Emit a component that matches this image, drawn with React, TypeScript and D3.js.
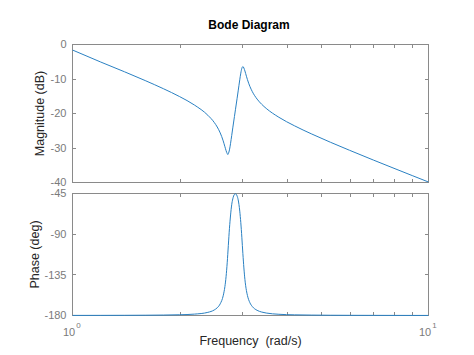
import React from 'react';
import * as d3 from 'd3';

// Frequency samples (rad/s)
const freq = [1, 1.2, 1.4, 1.6, 1.8, 2.0, 2.2, 2.4, 2.5, 2.55, 2.6, 2.65, 2.68, 2.7, 2.72, 2.73, 2.74, 2.76, 2.78, 2.8, 2.82, 2.85, 2.87, 2.9, 2.92, 2.95, 2.97, 2.99, 3.0, 3.01, 3.05, 3.08, 3.1, 3.15, 3.2, 3.3, 3.4, 3.5, 3.8, 4.2, 4.7, 5.3, 6, 7, 8, 9, 10];
// Magnitude (dB)
const magnitudeDb = [-1.6, -5.08, -7.91, -10.45, -12.81, -15.11, -17.54, -20.51, -22.56, -23.91, -25.63, -27.92, -29.62, -30.77, -31.62, -31.9, -31.64, -30.54, -28.63, -26.41, -24.17, -20.9, -18.77, -15.59, -13.45, -10.24, -8.3, -6.9, -6.53, -6.4, -7.67, -9.21, -10.17, -12.16, -13.67, -15.82, -17.34, -18.52, -21.1, -23.55, -25.95, -28.32, -30.66, -33.49, -35.89, -37.99, -39.86];
// Phase (deg)
const phaseDeg = [-179.89, -179.85, -179.78, -179.68, -179.5, -179.17, -178.47, -176.52, -173.94, -171.45, -167.06, -158.22, -147.95, -137.06, -121.64, -112.32, -102.42, -83.49, -68.77, -57.5, -51.0, -46.0, -45.3, -47.8, -52.0, -64.5, -77.25, -93.41, -102.42, -111.45, -140.12, -152.45, -157.81, -165.86, -170.1, -174.27, -176.19, -177.26, -178.65, -179.26, -179.55, -179.71, -179.8, -179.86, -179.89, -179.92, -179.93];

const magTicks = [0, -10, -20, -30, -40];
const phaseTicks = [-45, -90, -135, -180];
const minorFreqs = [2, 3, 4, 5, 6, 7, 8, 9];
const decadeTicks = [{ v: 1, exp: '0' }, { v: 10, exp: '1' }];

const titleText = 'Bode Diagram';
const magLabel = 'Magnitude (dB)';
const phaseLabel = 'Phase (deg)';
const freqLabel = 'Frequency  (rad/s)';

const FONT = '"Liberation Sans", Arial, Helvetica, sans-serif';
const AX = '#8a8a8a';
const TXT = '#7a7a7a';
const LBL = '#262626';
const LINE = '#2a80c2';

export default function App() {
  const W = 474, H = 355;
  const L = 72.5, R = 428.5;
  const magTop = 44.5, magBot = 182.5, phTop = 193.5, phBot = 315.5;
  const tl = 3.5;

  const x = d3.scaleLog().domain([1, 10]).range([L, R]);
  const yMag = d3.scaleLinear().domain([-40, 0]).range([magBot, magTop]);
  const yPh = d3.scaleLinear().domain([-180, -45]).range([phBot, phTop]);

  const magPath = d3.line<number>()
    .x((_, i) => x(freq[i]))
    .y((d) => yMag(d))
    .curve(d3.curveMonotoneX)(magnitudeDb) || '';
  const phPath = d3.line<number>()
    .x((_, i) => x(freq[i]))
    .y((d) => yPh(d))
    .curve(d3.curveMonotoneX)(phaseDeg) || '';

  const panel = (top: number, bot: number, ticks: number[], y: (v: number) => number, key: string) => (
    <g key={key}>
      <rect x={L} y={top} width={R - L} height={bot - top} fill="#fff" stroke={AX} strokeWidth={1} />
      {minorFreqs.map((f) => (
        <g key={f}>
          <line x1={Math.round(x(f)) + 0.5} x2={Math.round(x(f)) + 0.5} y1={bot} y2={bot - tl} stroke={AX} />
          <line x1={Math.round(x(f)) + 0.5} x2={Math.round(x(f)) + 0.5} y1={top} y2={top + tl} stroke={AX} />
        </g>
      ))}
      {ticks.map((t) => (
        <g key={t}>
          <line x1={L} x2={L + tl} y1={Math.round(y(t) - 0.5) + 0.5} y2={Math.round(y(t) - 0.5) + 0.5} stroke={AX} />
          <line x1={R} x2={R - tl} y1={Math.round(y(t) - 0.5) + 0.5} y2={Math.round(y(t) - 0.5) + 0.5} stroke={AX} />
          <text x={L - 6} y={y(t)} dy="0.36em" textAnchor="end" fontSize={11} fill={TXT} fontFamily={FONT}>
            {t}
          </text>
        </g>
      ))}
    </g>
  );

  return (
    <svg width={W} height={H} style={{ position: 'absolute', left: 0, top: 0, background: '#fff' }}>
      <defs>
        <clipPath id="cm"><rect x={L} y={magTop - 1} width={R - L} height={magBot - magTop + 2} /></clipPath>
        <clipPath id="cp"><rect x={L} y={phTop - 1} width={R - L} height={phBot - phTop + 2} /></clipPath>
      </defs>
      <rect x={0} y={0} width={W} height={H} fill="#fff" />
      {panel(magTop, magBot, magTicks, yMag, 'mag')}
      {panel(phTop, phBot, phaseTicks, yPh, 'ph')}
      <path d={magPath} fill="none" stroke={LINE} strokeWidth={1} clipPath="url(#cm)" />
      <path d={phPath} fill="none" stroke={LINE} strokeWidth={1} clipPath="url(#cp)" />

      {decadeTicks.map((d) => (
        <text key={d.v} x={x(d.v) - 9.5} y={336} fontSize={11} fill={TXT} fontFamily={FONT}>
          10
          <tspan dx={1} dy={-8} fontSize={8}>{d.exp}</tspan>
        </text>
      ))}

      <text x={249} y={29} textAnchor="middle" fontSize={12} fontWeight="bold" fill="#000" fontFamily={FONT}>
        {titleText}
      </text>
      <text transform={`translate(44, ${(magTop + magBot) / 2}) rotate(-90)`} textAnchor="middle" fontSize={12.5} fill={LBL} fontFamily={FONT}>
        {magLabel}
      </text>
      <text transform={`translate(39, ${(phTop + phBot) / 2}) rotate(-90)`} textAnchor="middle" fontSize={12.5} fill={LBL} fontFamily={FONT} style={{ whiteSpace: 'pre' }}>
        {phaseLabel}
      </text>
      <text x={(L + R) / 2} y={345} textAnchor="middle" fontSize={12.5} fill={LBL} fontFamily={FONT} style={{ whiteSpace: 'pre' }}>
        {freqLabel}
      </text>
    </svg>
  );
}
